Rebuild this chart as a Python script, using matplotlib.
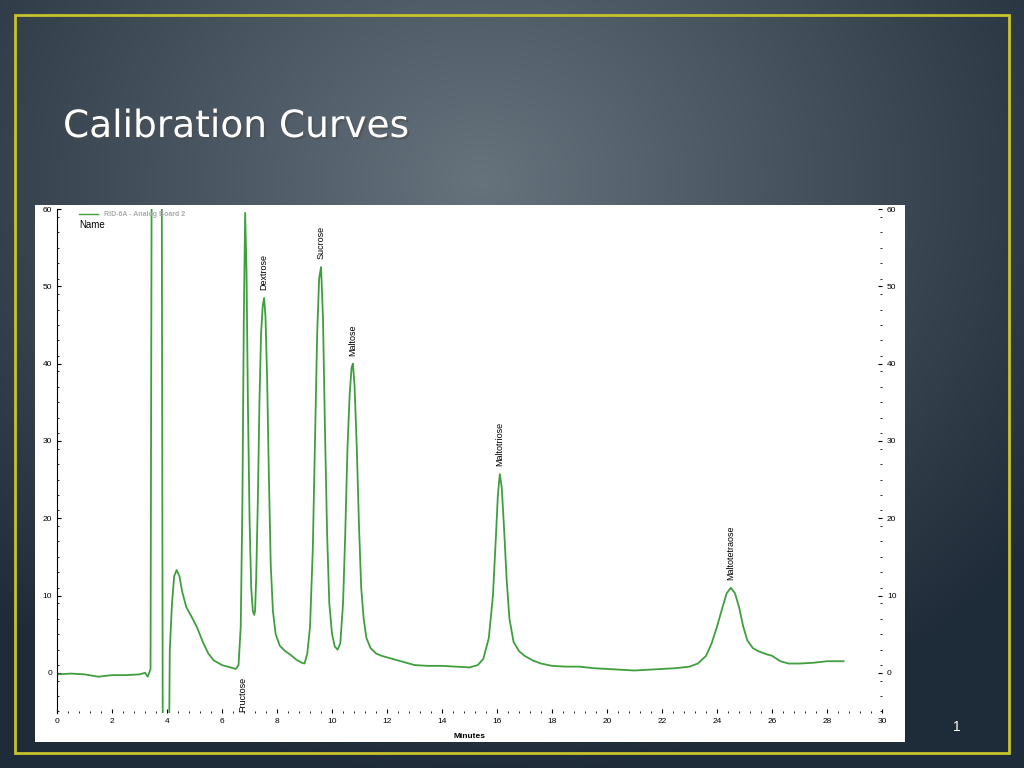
import numpy as np
import matplotlib.pyplot as plt
import matplotlib.patheffects as pe
from matplotlib.patches import Rectangle

# chromatogram trace (minutes, response)
t = [0, 0.5, 1, 1.5, 2, 2.5, 3, 3.2, 3.3, 3.4, 3.45, 3.5, 3.8, 3.85, 3.9, 4.05, 4.1, 4.18, 4.26, 4.35,
     4.45, 4.55, 4.7, 4.9, 5.1, 5.3, 5.5, 5.7, 6.0, 6.2, 6.5, 6.6, 6.68, 6.74, 6.79, 6.84, 6.89, 6.94,
     7.0, 7.06, 7.12, 7.17, 7.2, 7.24, 7.3, 7.36, 7.42, 7.48, 7.53, 7.58, 7.64, 7.7, 7.77, 7.85, 7.95,
     8.1, 8.3, 8.5, 8.7, 8.9, 9.0, 9.1, 9.2, 9.3, 9.38, 9.46, 9.53, 9.6, 9.67, 9.74, 9.82, 9.9, 10.0,
     10.1, 10.2, 10.3, 10.4, 10.48, 10.56, 10.64, 10.71, 10.76, 10.82, 10.9, 10.98, 11.06, 11.15,
     11.25, 11.4, 11.6, 11.8, 12, 12.5, 13, 13.5, 14, 14.5, 15, 15.3, 15.5, 15.7, 15.85, 15.95, 16.03,
     16.1, 16.17, 16.25, 16.35, 16.45, 16.6, 16.8, 17.0, 17.3, 17.6, 18, 18.5, 19, 19.5, 20, 20.5, 21,
     21.5, 22, 22.5, 23, 23.3, 23.6, 23.8, 24.0, 24.2, 24.35, 24.5, 24.65, 24.8, 24.95, 25.1, 25.3,
     25.5, 25.8, 26, 26.3, 26.6, 27, 27.5, 28, 28.6]
y = [-0.2, -0.1, -0.2, -0.5, -0.3, -0.3, -0.2, 0.0, -0.5, 0.5, 80, 80, 80, -20, -20, -20, 3, 9, 12.5, 13.3,
     12.5, 10.5, 8.5, 7.2, 5.8, 4.0, 2.5, 1.6, 1.0, 0.8, 0.5, 1.0, 6, 22, 45, 59.5, 52, 35,
     20, 11, 8, 7.5, 8, 12, 22, 35, 44, 47.5, 48.5, 46, 38, 26, 14, 8, 5,
     3.5, 2.8, 2.3, 1.7, 1.3, 1.2, 2.5, 6, 16, 30, 44, 51, 52.5, 46, 32, 18, 9, 5,
     3.4, 3.0, 3.8, 9, 18, 29, 36, 39.5, 40, 37, 29, 19, 11, 7,
     4.5, 3.2, 2.5, 2.2, 2.0, 1.5, 1.0, 0.9, 0.9, 0.8, 0.7, 1.0, 1.8, 4.5, 10, 17, 23,
     25.7, 24, 19, 12, 7, 4, 2.8, 2.2, 1.6, 1.2, 0.9, 0.8, 0.8, 0.6, 0.5, 0.4, 0.3,
     0.4, 0.5, 0.6, 0.8, 1.2, 2.2, 3.8, 6, 8.5, 10.3, 11, 10.3, 8.5, 6, 4.2, 3.2,
     2.8, 2.4, 2.2, 1.5, 1.2, 1.2, 1.3, 1.5, 1.5]

peak_names = ['Fructose', 'Dextrose', 'Sucrose', 'Maltose', 'Maltotriose', 'Maltotetraose']
peak_t = [6.75, 7.53, 9.6, 10.76, 16.1, 24.5]
label_y = [-0.5, 49.5, 53.5, 41, 26.7, 12]
label_va = ['top', 'bottom', 'bottom', 'bottom', 'bottom', 'bottom']

plt.rcParams['font.family'] = ['Liberation Sans', 'DejaVu Sans']
fig = plt.figure(figsize=(10.24, 7.68), dpi=100)

# slide background
bg = fig.add_axes([0, 0, 1, 1])
yy, xx = np.mgrid[0:768, 0:1024]
r = np.sqrt(((xx - 480) / 700.0) ** 2 + ((yy - 180) / 600.0) ** 2)
r = np.clip(r, 0, 1)
c0 = np.array([0.40, 0.45, 0.49])
c1 = np.array([0.12, 0.17, 0.22])
img = c0[None, None, :] * (1 - r[..., None]) + c1[None, None, :] * r[..., None]
bg.imshow(img, extent=[0, 1024, 768, 0], aspect='auto')
bg.add_patch(Rectangle((15, 15), 994, 738, fill=False, edgecolor='#c9c22a', lw=2))
bg.add_patch(Rectangle((35, 205), 870, 537, facecolor='white', edgecolor='none'))
bg.text(63, 127, 'Calibration Curves', color='white', fontsize=27, family='DejaVu Sans',
        va='center', ha='left',
        path_effects=[pe.withSimplePatchShadow(offset=(1.5, -1.5), alpha=0.6)])
bg.text(957, 727, '1', color='white', fontsize=10, ha='center', va='center')
bg.set_xlim(0, 1024)
bg.set_ylim(768, 0)
bg.axis('off')

ax = fig.add_axes([0.0557, 0.0716, 0.8057, 0.6562])
ax.plot(t, y, color='#3f9f3f', lw=1.3)
ax.set_xlim(0, 30)
ax.set_ylim(-5.2, 60)
ax.set_xticks(range(0, 31, 2))
ax.set_yticks(range(0, 61, 10))
ax.set_xticks(np.arange(0, 30.01, 0.4), minor=True)
ax.set_yticks(range(-5, 61, 2), minor=True)
ax.tick_params(labelsize=6, length=3, direction='in', right=True, labelright=True)
ax.tick_params(which='minor', length=1.5, direction='in', right=True)
for s in ['top', 'right', 'bottom']:
    ax.spines[s].set_visible(False)
ax.set_xlabel('Minutes', fontsize=6, fontweight='bold')
ax.xaxis.set_label_coords(0.5, -0.04)
for name, px, py, va in zip(peak_names, peak_t, label_y, label_va):
    ax.text(px, py, name, rotation=90, fontsize=6.5, ha='center', va=va)
ax.plot([0.8, 1.5], [59.3, 59.3], color='#3f9f3f', lw=1)
ax.text(1.7, 59.3, 'RID-6A - Analog Board 2', fontsize=5, color='#aaaaaa',
        fontweight='bold', va='center')
ax.text(0.8, 58, 'Name', fontsize=7, va='center')

fig.savefig('out.png', dpi=100)
